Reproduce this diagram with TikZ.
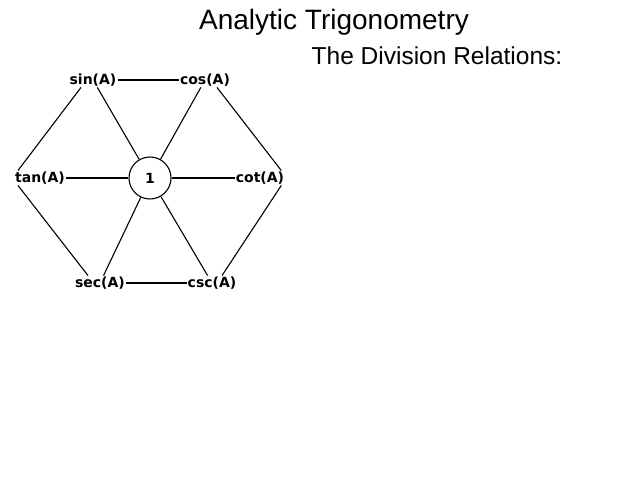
\documentclass[tikz,border=0pt]{standalone}
\usepackage{fontspec}
\setmainfont{Liberation Sans}
\newfontfamily\lab{DejaVu Sans}
\begin{document}
\begin{tikzpicture}[x=1pt,y=-1pt,
  lbl/.style={font=\lab\bfseries\fontsize{14}{16}\selectfont, inner sep=1pt},
  ln/.style={line width=1.1pt}]
\useasboundingbox (0,0) rectangle (638,478);
\node (t1) at (334,22) {\fontsize{28}{32}\selectfont Analytic Trigonometry};
\node (t2) at (437,56) {\fontsize{24.5}{28}\selectfont The Division Relations:};
\node[lbl] (sin) at (93,80) {sin(A)};
\node[lbl] (cos) at (205,80) {cos(A)};
\node[lbl] (tan) at (40,178) {tan(A)};
\node[lbl] (cot) at (260,178) {cot(A)};
\node[lbl] (sec) at (100,283) {sec(A)};
\node[lbl] (csc) at (212,283) {csc(A)};
\node[draw, circle, minimum size=42, inner sep=0pt, line width=1.1pt, font=\lab\bfseries\fontsize{14}{16}\selectfont] (one) at (150,178) {1};
\draw[ln] (sin) -- (cos);
\draw[ln] (sec) -- (csc);
\draw[ln] (tan) -- (one) -- (cot);
\draw[ln] ([xshift=-12]sin.south) -- ([xshift=4]tan.north west);
\draw[ln] ([xshift=4]tan.south west) -- ([xshift=-12]sec.north);
\draw[ln] ([xshift=12]cos.south) -- ([xshift=-4]cot.north east);
\draw[ln] ([xshift=-4]cot.south east) -- ([xshift=10]csc.north);
\draw[ln] (sin) -- (one) -- (csc);
\draw[ln] (cos) -- (one) -- (sec);
\end{tikzpicture}
\end{document}
